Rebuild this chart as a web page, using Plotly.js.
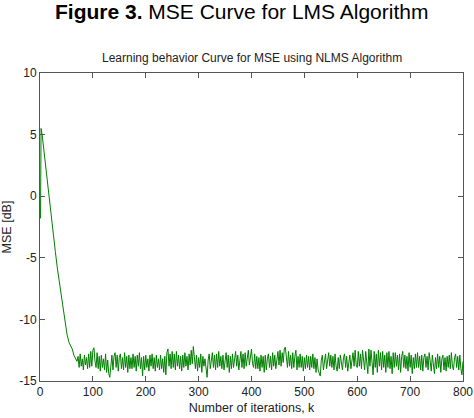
<!DOCTYPE html>
<html>
<head>
<meta charset="utf-8">
<script src="https://cdn.plot.ly/plotly-3.0.1.min.js"></script>
<style>html,body{margin:0;padding:0;background:#fff;}#chart{width:474px;height:418px;}</style>
</head>
<body>
<div id="chart"></div>
<script>
// Transient part (iteration, MSE in dB)
const transientK = [1,2,4,6,9,11,13,15,18,22,26,29,33,36,40,45,48,51,55,58,61,64,67,70];
const transientMSE = [-1.8,5.5,5.0,4.2,3.2,2.5,1.6,0.9,-0.4,-2.2,-3.5,-4.5,-5.9,-6.8,-8.2,-9.8,-10.6,-11.2,-11.9,-12.2,-12.4,-12.9,-13.1,-13.4];

// Steady-state part, every 2nd iteration from 72 to 800
const steadyStartK = 72;
const steadyStepK = 2;
const steadyMSE = [
-13.0,-13.9,-12.8,-13.8,-13.2,-14.1,-12.9,-13.7,-13.1,-14.0,
-12.8,-13.9,-12.6,-13.8,-12.5,-12.3,-13.4,-13.9,-12.7,-14.0,
-13.0,-14.2,-12.9,-13.9,-13.2,-14.1,-12.8,-14.3,-13.3,-14.4,
-14.7,-13.4,-12.9,-14.1,-13.0,-12.7,-13.9,-12.9,-14.2,-13.1,
-12.8,-14.0,-13.1,-14.1,-12.7,-13.9,-13.0,-14.3,-12.9,-14.0,
-13.1,-14.0,-12.8,-13.9,-13.0,-14.2,-12.9,-13.8,-12.7,-14.0,
-13.1,-14.6,-13.0,-14.1,-12.9,-13.9,-13.2,-14.2,-12.9,-13.8,
-12.8,-14.0,-13.1,-14.2,-12.9,-13.9,-13.2,-14.1,-12.9,-14.0,
-13.2,-14.3,-13.0,-14.5,-12.7,-12.4,-13.8,-12.8,-14.0,-12.6,
-13.9,-12.8,-14.1,-12.6,-13.8,-12.9,-14.0,-13.0,-14.2,-12.9,
-13.9,-12.7,-13.8,-13.0,-14.1,-12.8,-13.7,-12.5,-13.6,-12.2,
-13.0,-14.0,-12.9,-14.2,-13.1,-13.9,-12.8,-14.3,-13.0,-13.8,
-13.2,-14.1,-14.7,-13.3,-12.8,-14.0,-13.0,-12.7,-13.9,-12.9,
-14.1,-12.8,-13.9,-12.6,-13.8,-13.0,-14.0,-12.9,-14.1,-13.1,
-12.7,-13.9,-12.9,-14.3,-13.0,-14.0,-12.8,-13.9,-13.1,-12.6,
-13.8,-12.9,-14.1,-13.0,-12.6,-13.9,-12.8,-14.0,-12.7,-13.8,
-12.9,-12.5,-13.7,-12.7,-12.4,-13.6,-13.9,-12.8,-14.0,-13.0,
-14.0,-13.1,-14.2,-12.9,-13.9,-13.0,-14.3,-12.9,-14.1,-13.2,
-12.8,-13.9,-13.0,-14.1,-12.7,-13.8,-12.9,-14.0,-13.1,-12.6,
-13.7,-12.5,-13.8,-12.7,-13.5,-12.4,-12.25,-13.3,-13.9,-12.6,
-13.8,-12.9,-14.0,-12.7,-13.9,-13.0,-12.5,-14.1,-13.0,-13.9,
-12.8,-13.9,-13.0,-14.2,-13.1,-14.0,-12.9,-13.9,-13.0,-14.1,
-13.0,-13.9,-12.8,-14.0,-13.1,-14.3,-13.2,-14.1,-14.4,-14.6,
-13.3,-12.9,-14.1,-13.1,-12.8,-14.0,-13.0,-12.7,-13.8,-12.9,
-13.9,-13.0,-14.1,-12.8,-13.8,-14.2,-13.1,-14.0,-12.9,-13.8,
-14.1,-13.1,-12.8,-13.9,-13.0,-14.2,-13.2,-12.9,-14.0,-13.1,
-12.7,-13.8,-12.5,-13.7,-13.9,-12.6,-13.8,-12.8,-14.0,-12.5,
-13.7,-14.1,-12.6,-13.9,-14.4,-12.4,-13.8,-12.5,-13.9,-14.5,
-12.6,-13.9,-12.8,-14.3,-12.5,-13.8,-12.7,-14.1,-12.6,-13.9,
-12.9,-14.3,-12.7,-13.9,-12.6,-14.0,-13.0,-14.4,-12.7,-13.9,
-12.7,-13.8,-12.9,-14.1,-12.8,-14.3,-13.0,-12.6,-13.9,-12.9,
-14.0,-13.0,-14.2,-12.7,-13.9,-12.9,-14.4,-13.1,-14.0,-12.8,
-13.9,-12.7,-13.9,-13.0,-14.1,-12.9,-14.2,-13.1,-12.8,-13.9,
-13.0,-14.1,-12.7,-13.8,-14.2,-12.9,-13.9,-14.4,-13.1,-14.0,
-12.8,-13.9,-13.0,-14.3,-13.2,-12.9,-14.1,-13.1,-14.2,-13.0,
-13.9,-12.9,-14.0,-12.7,-13.8,-14.1,-13.1,-12.8,-13.9,-13.0,
-14.1,-12.9,-14.0,-14.5,-13.4
];

const xTicks = [0,100,200,300,400,500,600,700,800];
const yTicks = [-15,-10,-5,0,5,10];

const steadyK = steadyMSE.map((_, i) => steadyStartK + i * steadyStepK);
const allK = transientK.concat(steadyK);
const allMSE = transientMSE.concat(steadyMSE);

const fontFam = '"Liberation Sans", Arial, sans-serif';

const trace = {
  x: allK, y: allMSE, type: 'scatter', mode: 'lines',
  line: {color: '#008000', width: 1},
  hoverinfo: 'skip'
};

const axisCommon = {
  showline: true, linecolor: '#555', linewidth: 1, mirror: 'ticks',
  ticks: 'inside', ticklen: 5, tickcolor: '#555', tickwidth: 1,
  showgrid: false, zeroline: false,
  tickfont: {family: fontFam, size: 12, color: '#222'}
};

const layout = {
  width: 474, height: 418,
  margin: {l: 40, r: 11, t: 73, b: 37},
  paper_bgcolor: '#fff', plot_bgcolor: '#fff',
  showlegend: false,
  title: {
    text: '<b>Figure 3.</b> MSE Curve for LMS Algorithm',
    font: {family: fontFam, size: 21, color: '#000'},
    x: 0.51, xref: 'container', xanchor: 'center',
    y: 0.972, yref: 'container', yanchor: 'middle'
  },
  xaxis: Object.assign({}, axisCommon, {
    range: [0, 800], tickvals: xTicks, ticktext: xTicks.map(String),
    title: {text: 'Number of iterations, k', font: {family: fontFam, size: 12.5, color: '#222'}, standoff: 4}
  }),
  yaxis: Object.assign({}, axisCommon, {
    range: [-15, 10], tickvals: yTicks, ticktext: yTicks.map(String),
    title: {text: 'MSE [dB]', font: {family: fontFam, size: 12.5, color: '#222'}, standoff: 6}
  }),
  annotations: [{
    text: 'Learning behavior Curve for MSE using NLMS Algorithm',
    xref: 'paper', yref: 'paper', x: 0.5, y: 1, yshift: 15,
    xanchor: 'center', yanchor: 'middle', showarrow: false,
    font: {family: fontFam, size: 12, color: '#222'}
  }]
};

Plotly.newPlot('chart', [trace], layout, {displayModeBar: false, staticPlot: true});
</script>
</body>
</html>
